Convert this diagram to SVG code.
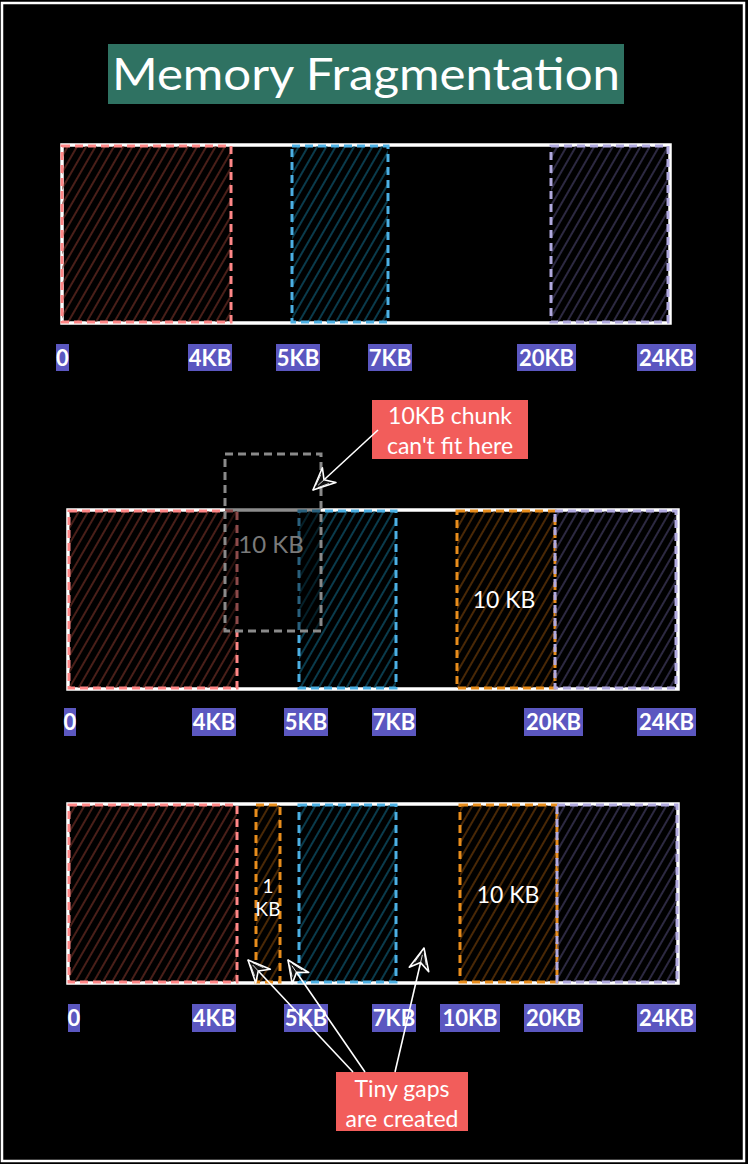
<svg xmlns="http://www.w3.org/2000/svg" width="748" height="1164" viewBox="0 0 748 1164">
<defs>
<pattern id="hRed" width="8" height="8" patternUnits="userSpaceOnUse" patternTransform="rotate(30)"><line x1="4" y1="0" x2="4" y2="8" stroke="#7a3329" stroke-width="1.2"/></pattern>
<pattern id="hBlue" width="8" height="8" patternUnits="userSpaceOnUse" patternTransform="rotate(30)"><line x1="4" y1="0" x2="4" y2="8" stroke="#10627f" stroke-width="1.2"/></pattern>
<pattern id="hPurple" width="8" height="8" patternUnits="userSpaceOnUse" patternTransform="rotate(30)"><line x1="4" y1="0" x2="4" y2="8" stroke="#4a446c" stroke-width="1.2"/></pattern>
<pattern id="hOrange" width="8" height="8" patternUnits="userSpaceOnUse" patternTransform="rotate(30)"><line x1="4" y1="0" x2="4" y2="8" stroke="#7a420a" stroke-width="1.2"/></pattern>
<marker id="ah" viewBox="-24 -12 28 24" markerWidth="28" markerHeight="24" refX="0" refY="0" orient="auto" markerUnits="userSpaceOnUse">
<path d="M0,0 L-22,-10 L-15,0 L-22,10 Z" fill="#111" stroke="#fff" stroke-width="1.6" stroke-linejoin="round"/>
<path d="M-5,-1.5 L-16,-6 M-5,1.5 L-16,6 M-7,0 L-15,0" stroke="#fff" stroke-width="0.8"/>
</marker>
</defs>
<style>
.frame{fill:none;stroke:#fff;stroke-width:3.5}
.red{fill:url(#hRed);stroke:#ff8787;stroke-width:3;stroke-dasharray:8 5}
.blue{fill:url(#hBlue);stroke:#4cb0e4;stroke-width:3;stroke-dasharray:8 5}
.purple{fill:url(#hPurple);stroke:#b1aadf;stroke-width:3;stroke-dasharray:8 5}
.orange{fill:url(#hOrange);stroke:#e88d1c;stroke-width:3;stroke-dasharray:8 5}
.ghost{fill:#000;fill-opacity:0.45;stroke:#8a8a8a;stroke-width:3;stroke-dasharray:8 5}
.lbl{fill:#5b57c0}
.lt{font-family:Lato,"Liberation Sans",sans-serif;font-weight:bold;font-size:22px;fill:#fff;text-anchor:middle}
.bt{font-family:Lato,"Liberation Sans",sans-serif;font-size:23px;fill:#fff;text-anchor:middle}
.call{fill:#f25d5b}
.ct{font-family:Lato,"Liberation Sans",sans-serif;font-size:23px;fill:#fff;text-anchor:middle}
.conn{fill:none;stroke:#fff;stroke-width:1.6;marker-end:url(#ah)}
</style>
<rect width="748" height="1164" fill="#000"/>
<rect x="2" y="3" width="742" height="1158" fill="none" stroke="#fff" stroke-width="2.5"/>

<g id="title">
<rect x="108" y="44" width="516" height="60" fill="#2f7262"/>
<text x="366" y="90" font-family="Lato,'Liberation Sans',sans-serif" font-size="44" fill="#fff" text-anchor="middle" textLength="508" lengthAdjust="spacingAndGlyphs">Memory Fragmentation</text>
</g>

<!-- Panel 1 -->
<g id="p1-memory"><rect class="frame" x="62" y="145" width="608" height="178"/></g>
<g id="p1-block-0-4"><rect class="red" x="62" y="146" width="169" height="176"/></g>
<g id="p1-block-5-7"><rect class="blue" x="292" y="146" width="96" height="176"/></g>
<g id="p1-block-20-24"><rect class="purple" x="551" y="146" width="117" height="176"/></g>
<g id="p1-labels">
<rect class="lbl" x="56" y="344" width="13" height="27"/><text class="lt" x="62.5" y="366">0</text>
<rect class="lbl" x="188" y="344" width="44" height="27"/><text class="lt" x="210" y="366">4KB</text>
<rect class="lbl" x="276" y="344" width="44" height="27"/><text class="lt" x="298" y="366">5KB</text>
<rect class="lbl" x="368" y="344" width="44" height="27"/><text class="lt" x="390" y="366">7KB</text>
<rect class="lbl" x="517" y="344" width="59" height="27"/><text class="lt" x="546.5" y="366">20KB</text>
<rect class="lbl" x="637" y="344" width="59" height="27"/><text class="lt" x="666.5" y="366">24KB</text>
</g>

<!-- Panel 2 -->
<g id="p2-memory"><rect class="frame" x="68" y="510" width="610" height="179"/></g>
<g id="p2-block-0-4"><rect class="red" x="69" y="511" width="168" height="177"/></g>
<g id="p2-block-5-7"><rect class="blue" x="299" y="511" width="97" height="177"/></g>
<g id="p2-block-10kb"><rect class="orange" x="457" y="511" width="98" height="177"/><text class="bt" x="504" y="608">10 KB</text></g>
<g id="p2-block-20-24"><rect class="purple" x="555" y="511" width="121" height="177"/></g>
<g id="p2-ghost-10kb"><rect class="ghost" x="225" y="454" width="96" height="177"/><text class="bt" x="271" y="553" style="fill:#7a7a7a;font-size:24px">10 KB</text></g>
<g id="p2-callout"><rect class="call" x="372" y="400" width="156" height="59"/><text class="ct" x="450" y="424">10KB chunk</text><text class="ct" x="450" y="454">can't fit here</text></g>
<g id="p2-labels">
<rect class="lbl" x="64" y="708" width="12" height="28"/><text class="lt" x="70" y="730">0</text>
<rect class="lbl" x="192" y="708" width="44" height="28"/><text class="lt" x="214" y="730">4KB</text>
<rect class="lbl" x="284" y="708" width="44" height="28"/><text class="lt" x="306" y="730">5KB</text>
<rect class="lbl" x="372" y="708" width="44" height="28"/><text class="lt" x="394" y="730">7KB</text>
<rect class="lbl" x="524" y="708" width="59" height="28"/><text class="lt" x="553.5" y="730">20KB</text>
<rect class="lbl" x="637" y="708" width="59" height="28"/><text class="lt" x="666.5" y="730">24KB</text>
</g>

<!-- Panel 3 -->
<g id="p3-memory"><rect class="frame" x="68" y="804" width="610" height="179"/></g>
<g id="p3-block-0-4"><rect class="red" x="69" y="805" width="168" height="177"/></g>
<g id="p3-block-1kb"><rect class="orange" x="256" y="805" width="24" height="177"/><text class="bt" x="268" y="893" style="font-size:19px">1</text><text class="bt" x="268" y="916" style="font-size:19px">KB</text></g>
<g id="p3-block-5-7"><rect class="blue" x="299" y="805" width="97" height="177"/></g>
<g id="p3-block-10kb"><rect class="orange" x="460" y="805" width="97" height="177"/><text class="bt" x="508" y="903">10 KB</text></g>
<g id="p3-block-20-24"><rect class="purple" x="557" y="805" width="120" height="177"/></g>
<g id="p3-callout"><rect class="call" x="336" y="1072" width="132" height="59"/><text class="ct" x="402" y="1097">Tiny gaps</text><text class="ct" x="402" y="1127">are created</text></g>
<g id="p3-labels">
<rect class="lbl" x="68" y="1004" width="12" height="28"/><text class="lt" x="74" y="1026">0</text>
<rect class="lbl" x="192" y="1004" width="44" height="28"/><text class="lt" x="214" y="1026">4KB</text>
<rect class="lbl" x="284" y="1004" width="44" height="28"/><text class="lt" x="306" y="1026">5KB</text>
<rect class="lbl" x="372" y="1004" width="44" height="28"/><text class="lt" x="394" y="1026">7KB</text>
<rect class="lbl" x="440" y="1004" width="60" height="28"/><text class="lt" x="470" y="1026">10KB</text>
<rect class="lbl" x="524" y="1004" width="59" height="28"/><text class="lt" x="553.5" y="1026">20KB</text>
<rect class="lbl" x="637" y="1004" width="59" height="28"/><text class="lt" x="666.5" y="1026">24KB</text>
</g>

<g id="connectors">
<path class="conn" d="M378,430 L313,490"/>
<path class="conn" d="M353,1072 L248,960"/>
<path class="conn" d="M365,1072 L288,960"/>
<path class="conn" d="M395,1072 L424,948"/>
</g>
</svg>
